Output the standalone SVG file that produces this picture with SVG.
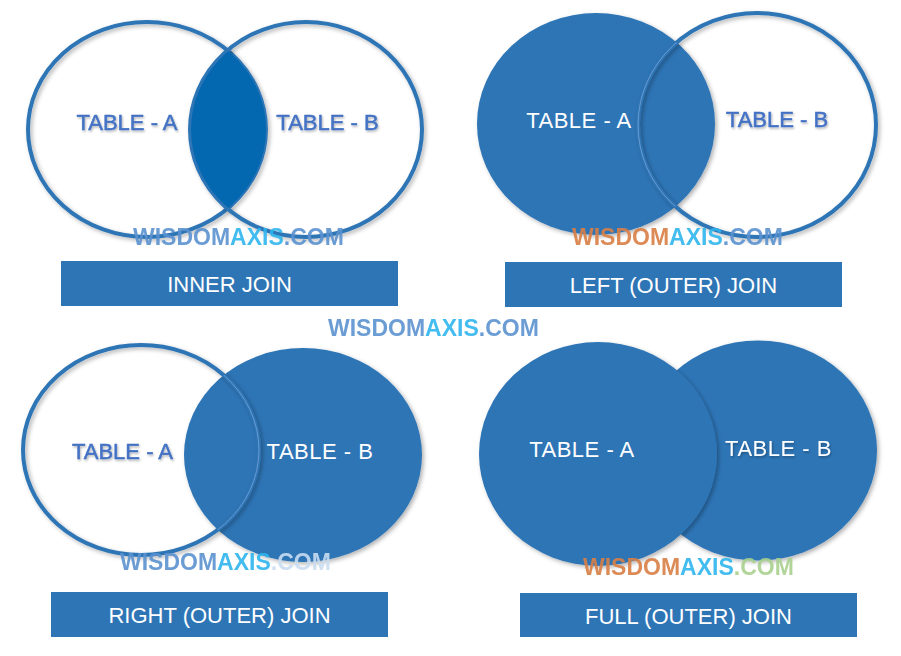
<svg xmlns="http://www.w3.org/2000/svg" width="901" height="656" viewBox="0 0 901 656">
<style>
.fill{fill:#2E75B6}
.ring{fill:none;stroke:#2E75B6;stroke-width:4}
.inner{fill:none;stroke:#6A9AD0;stroke-width:1}
.lbl{font-family:"Liberation Sans",Arial,sans-serif;font-size:22px;text-anchor:middle}
.blue{fill:#4472C4;stroke:#4472C4;stroke-width:0.5}
.white{fill:#FFFFFF;letter-spacing:0.5px}
.bar{fill:#2E75B6}
.bartxt{font-family:"Liberation Sans",Arial,sans-serif;font-size:22px;fill:#FFFFFF;text-anchor:middle}
.wm{font-family:"Liberation Sans",Arial,sans-serif;font-size:23px;font-weight:bold;opacity:0.9}
.wb{fill:#5B92D0}
.wc{fill:#2FB5EE}
.wo{fill:#D97F45}
.wl{fill:#C9DDF1}
.wg{fill:#A9D18E}
</style>
<defs>
<filter id="sh" x="-10%" y="-10%" width="125%" height="125%">
<feDropShadow dx="2" dy="2" stdDeviation="2" flood-color="#000" flood-opacity="0.3"/>
</filter>
<filter id="tsh" x="-10%" y="-20%" width="125%" height="150%">
<feDropShadow dx="1" dy="1.5" stdDeviation="1.2" flood-color="#000" flood-opacity="0.3"/>
</filter>
<clipPath id="clipA1"><ellipse cx="147" cy="129.5" rx="119" ry="107.5"/></clipPath>
<clipPath id="clipA2"><ellipse cx="596" cy="124" rx="119" ry="111"/></clipPath>
<clipPath id="clipB3"><ellipse cx="303" cy="455" rx="119" ry="107"/></clipPath>
</defs>

<g id="inner-join">
<ellipse class="ring" cx="147" cy="129.5" rx="119" ry="107.5" filter="url(#sh)"/>
<ellipse class="ring" cx="306" cy="129.5" rx="116" ry="107.5" filter="url(#sh)"/>
<ellipse cx="306" cy="129.5" rx="116" ry="107.5" fill="#0468B1" stroke="#2E75B6" stroke-width="2" clip-path="url(#clipA1)"/>
<text class="lbl blue" x="127" y="130" filter="url(#tsh)">TABLE - A</text>
<text class="lbl blue" x="327.5" y="130" filter="url(#tsh)">TABLE - B</text>
</g>

<g id="left-join">
<ellipse class="fill" cx="596" cy="124" rx="119" ry="111" filter="url(#sh)"/>
<ellipse class="ring" cx="757" cy="125" rx="119" ry="112" filter="url(#sh)"/>
<ellipse class="inner" cx="757" cy="125" rx="119" ry="112" clip-path="url(#clipA2)"/>
<text class="lbl white" x="579" y="128">TABLE - A</text>
<text class="lbl blue" x="777" y="127" filter="url(#tsh)">TABLE - B</text>
</g>

<g id="right-join">
<ellipse class="fill" cx="303" cy="455" rx="119" ry="107" filter="url(#sh)"/>
<ellipse class="ring" cx="141" cy="450" rx="118" ry="105" filter="url(#sh)"/>
<ellipse class="inner" cx="141" cy="450" rx="118" ry="105" clip-path="url(#clipB3)"/>
<text class="lbl blue" x="122.5" y="459" filter="url(#tsh)">TABLE - A</text>
<text class="lbl white" x="320" y="459">TABLE - B</text>
</g>

<g id="full-join">
<ellipse class="fill" cx="758" cy="450.5" rx="119" ry="110" filter="url(#sh)"/>
<ellipse class="fill" cx="598" cy="454" rx="119" ry="112" filter="url(#sh)"/>
<text class="lbl white" x="582" y="457">TABLE - A</text>
<text class="lbl white" x="778.5" y="456" filter="url(#tsh)">TABLE - B</text>
</g>

<g id="labels">
<rect class="bar" x="61" y="261" width="337" height="45"/>
<text class="bartxt" x="229.5" y="292">INNER JOIN</text>
<rect class="bar" x="505" y="262" width="337" height="45"/>
<text class="bartxt" x="673.5" y="293">LEFT (OUTER) JOIN</text>
<rect class="bar" x="51" y="592" width="337" height="45"/>
<text class="bartxt" x="219.5" y="623">RIGHT (OUTER) JOIN</text>
<rect class="bar" x="520" y="593" width="337" height="44"/>
<text class="bartxt" x="688.5" y="624">FULL (OUTER) JOIN</text>
</g>

<g id="watermarks">
<text class="wm" x="133" y="245"><tspan class="wb">WISDOM</tspan><tspan class="wc">AXIS</tspan><tspan class="wb">.COM</tspan></text>
<text class="wm" x="572" y="245"><tspan class="wo">WISDOM</tspan><tspan class="wc">AXIS</tspan><tspan class="wb">.COM</tspan></text>
<text class="wm" x="328" y="336"><tspan class="wb">WISDOM</tspan><tspan class="wc">AXIS</tspan><tspan class="wb">.COM</tspan></text>
<text class="wm" x="120" y="570"><tspan class="wb">WISDOM</tspan><tspan class="wc">AXIS</tspan><tspan class="wl">.COM</tspan></text>
<text class="wm" x="583" y="575"><tspan class="wo">WISDOM</tspan><tspan class="wc">AXIS</tspan><tspan class="wg">.COM</tspan></text>
</g>
</svg>
